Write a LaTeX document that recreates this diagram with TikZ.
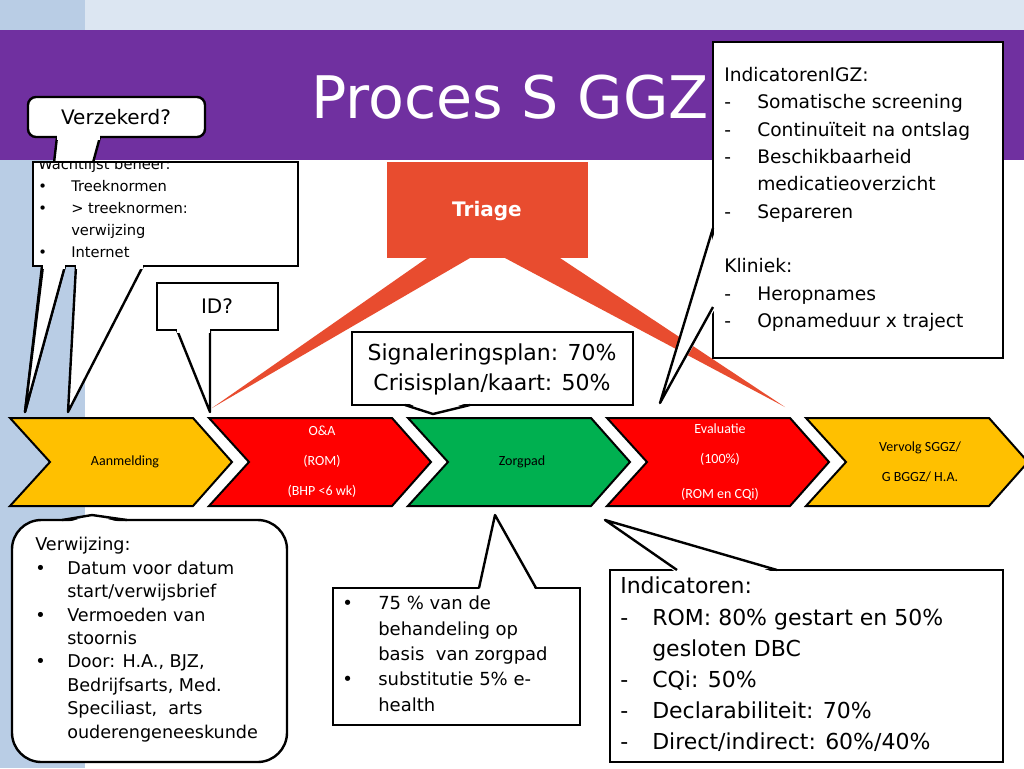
\documentclass[tikz,border=0pt]{standalone}
\usepackage{fontspec}
\setmainfont{DejaVu Sans}
\newfontfamily\chevfont{Carlito}
\definecolor{slidepurple}{HTML}{7030A0}
\definecolor{stripblue}{HTML}{B9CDE5}
\definecolor{topblue}{HTML}{DCE6F2}
\definecolor{stepyellow}{HTML}{FFC000}
\definecolor{stepred}{HTML}{FF0000}
\definecolor{stepgreen}{HTML}{00B050}
\definecolor{triagered}{HTML}{E84C2F}
\newcommand{\bul}[1]{\makebox[#1][l]{\textbullet}}
\newcommand{\dsh}[1]{\makebox[#1][l]{-}}
\tikzset{
  callout/.style={draw=black, fill=white, line width=1.8pt},
  tailline/.style={draw=black, line width=1.8pt, line join=round},
  chevron/.style={draw=black, line width=1.5pt},
  chevtext/.style={font=\chevfont\fontsize{10.5}{22.5}\selectfont, align=center},
  boxtext/.style={anchor=north west, align=left, inner sep=0pt}
}
\begin{document}
\begin{tikzpicture}[x=0.75pt,y=-0.75pt]
    \useasboundingbox (0,0) rectangle (1024,768);
    % background
    \fill[white] (0,0) rectangle (1024,768);
    \fill[topblue] (85,0) rectangle (1024,30);
    \fill[stripblue] (0,0) rectangle (85,768);
    \fill[slidepurple] (0,30) rectangle (1024,160);
    \node[text=white, font=\fontsize{44}{50}\selectfont] (title) at (510,97) {Proces S GGZ};

    % triage
    \fill[triagered] (427,258) -- (212,408) -- (470,258) -- cycle;
    \fill[triagered] (505,258) -- (785,407) -- (560,258) -- cycle;
    \fill[triagered] (387,162) rectangle (588,258);
    \node[text=white, font=\bfseries\fontsize{15}{18}\selectfont] (triage) at (487,211) {Triage};

    % chevrons
    \foreach \i/\col in {0/stepyellow,1/stepred,2/stepgreen,3/stepred,4/stepyellow} {
        \pgfmathsetmacro{\l}{10+199*\i}
        \draw[chevron, fill=\col] (\l,418) -- ({\l+183},418) -- ({\l+222},462)
            -- ({\l+183},506) -- (\l,506) -- ({\l+40},462) -- cycle;
    }
    \node[chevtext] (aanmelding) at (125,462) {Aanmelding};
    \node[chevtext, text=white] (oena) at (322,462) {O\&A\\(ROM)\\(BHP <6 wk)};
    \node[chevtext] (zorgpad) at (522,462) {Zorgpad};
    \node[chevtext, text=white] (evaluatie) at (720,462)
        {\fontsize{10.5}{19}\selectfont Evaluatie\\(100\%)\\[4pt](ROM en CQi)};
    \node[chevtext] (vervolg) at (920,462) {Vervolg SGGZ/\\G BGGZ/ H.A.};

    % Verzekerd?
    \fill[white] (57,134) -- (25,412) -- (100,134) -- cycle;
    \draw[tailline] (57,137) -- (25,412) -- (100,137);
    \draw[callout, rounded corners=6pt] (28,97) rectangle (205,137);
    \fill[white] (57,134) rectangle (100,140);
    \node[font=\fontsize{15}{18}\selectfont] (verzekerd) at (116,117) {Verzekerd?};

    % wachtlijst
    \fill[white] (43,262) -- (25,412) -- (65,262) -- cycle;
    \fill[white] (76,262) -- (68,412) -- (143,262) -- cycle;
    \draw[tailline] (43,266) -- (25,412) -- (65,266);
    \draw[tailline] (76,266) -- (68,412) -- (143,266);
    \draw[callout] (33,162) rectangle (298,266);
    \fill[white] (43,263) rectangle (65,269);
    \fill[white] (76,263) rectangle (143,269);
    \begin{scope}
        \clip (33,162) rectangle (298,266);
        \node[boxtext, font=\fontsize{11}{16.5}\selectfont] (wachtlijst) at (38,158)
            {Wachtlijst beheer:\\ \bul{24.75pt}Treeknormen\\ \bul{24.75pt}> treeknormen:\\
             \hspace{24.75pt}verwijzing\\ \bul{24.75pt}Internet};
    \end{scope}

    % ID?
    \fill[white] (177,327) -- (210,412) -- (210,327) -- cycle;
    \draw[tailline] (177,330) -- (210,412) -- (210,330);
    \draw[callout] (157,283) rectangle (278,330);
    \fill[white] (177,327) rectangle (210,333);
    \node[font=\fontsize{15}{18}\selectfont] (id) at (217,306) {ID?};

    % signaleringsplan
    \draw[callout] (352,332) rectangle (633,405);
    \fill[white] (405,402) -- (433,414) -- (470,402) -- cycle;
    \draw[tailline] (405,405) -- (433,414) -- (470,405);
    \node[font=\fontsize{16.5}{22.5}\selectfont, align=center] (signalering) at (492,369)
        {Signaleringsplan: 70\%\\Crisisplan/kaart: 50\%};

    % indicatoren IGZ
    \draw[callout] (713,42) rectangle (1003,358);
    \fill[white] (716,228) -- (660,403) -- (716,307) -- cycle;
    \draw[tailline] (713,228) -- (660,403) -- (713,307);
    \node[boxtext, font=\fontsize{14}{20.5}\selectfont] (igz) at (724,67)
        {IndicatorenIGZ:\\ \dsh{24.75pt}Somatische screening\\ \dsh{24.75pt}Continuïteit na ontslag\\
         \dsh{24.75pt}Beschikbaarheid\\ \hspace{24.75pt}medicatieoverzicht\\ \dsh{24.75pt}Separeren\\[20.5pt]
         Kliniek:\\ \dsh{24.75pt}Heropnames\\ \dsh{24.75pt}Opnameduur x traject};

    % verwijzing
    \draw[callout, rounded corners=22pt] (12,520) rectangle (287,762);
    \fill[white] (62,524) -- (92,515) -- (127,524) -- cycle;
    \draw[tailline] (62,520) -- (92,515) -- (127,520);
    \node[boxtext, font=\fontsize{13.2}{17.6}\selectfont] (verwijzing) at (35,537)
        {Verwijzing:\\ \bul{24pt}Datum voor datum\\ \hspace{24pt}start/verwijsbrief\\
         \bul{24pt}Vermoeden van\\ \hspace{24pt}stoornis\\ \bul{24pt}Door: H.A., BJZ,\\
         \hspace{24pt}Bedrijfsarts, Med.\\ \hspace{24pt}Speciliast,\ \ arts\\
         \hspace{24pt}ouderengeneeskunde};

    % zorgpad callout
    \draw[callout] (333,588) rectangle (580,725);
    \fill[white] (479,591) -- (495,515) -- (536,591) -- cycle;
    \draw[tailline] (479,588) -- (495,515) -- (536,588);
    \node[boxtext, font=\fontsize{13.5}{19}\selectfont] (behandeling) at (342,596)
        {\bul{27pt}75 \% van de\\ \hspace{27pt}behandeling op\\ \hspace{27pt}basis\ \ van zorgpad\\
         \bul{27pt}substitutie 5\% e-\\ \hspace{27pt}health};

    % indicatoren
    \draw[callout] (610,570) rectangle (1003,762);
    \fill[white] (677,573) -- (605,520) -- (777,573) -- cycle;
    \draw[tailline] (677,570) -- (605,520) -- (777,570);
    \node[boxtext, font=\fontsize{16.5}{23.3}\selectfont] (indicatoren) at (620,577)
        {Indicatoren:\\ \dsh{24pt}ROM: 80\% gestart en 50\%\\ \hspace{24pt}gesloten DBC\\
         \dsh{24pt}CQi: 50\%\\ \dsh{24pt}Declarabiliteit: 70\%\\ \dsh{24pt}Direct/indirect: 60\%/40\%};
\end{tikzpicture}
\end{document}
